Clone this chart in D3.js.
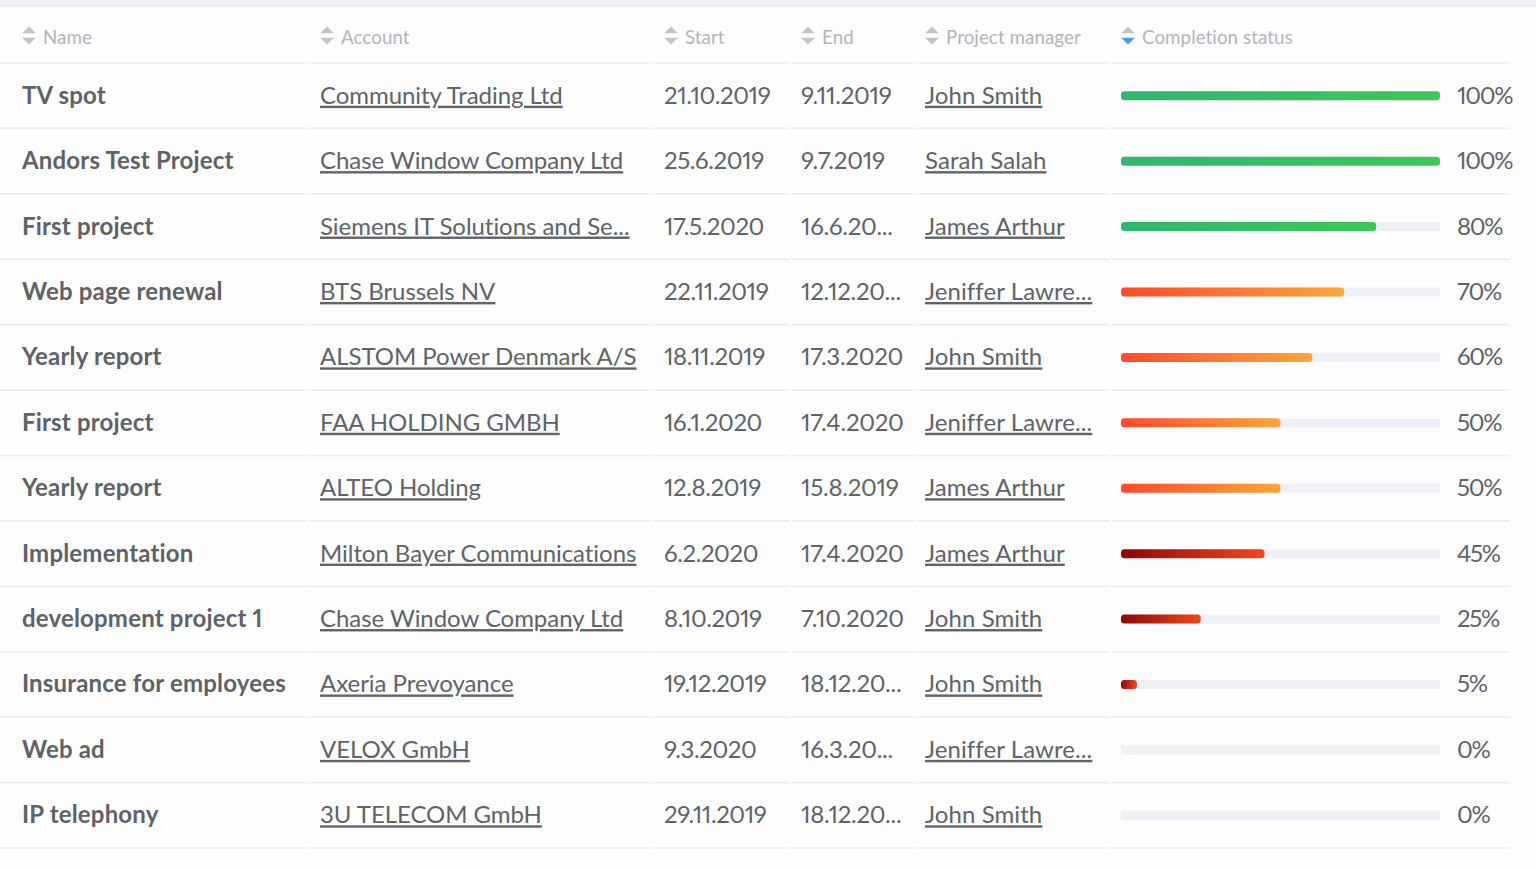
<!DOCTYPE html>
<html>
<head>
<meta charset="utf-8">
<script src="https://cdn.jsdelivr.net/npm/d3@7"></script>
<style>
  html, body { margin: 0; padding: 0; background: #fdfdfe; overflow: hidden; }
  svg { display: block; font-family: Lato, sans-serif; font-variant-numeric: proportional-nums; font-feature-settings: "pnum" 1; }
</style>
</head>
<body>
<svg width="1536" height="869"></svg>
<script>
const headers = ["Name", "Account", "Start", "End", "Project manager", "Completion status"];
const names = ["TV spot", "Andors Test Project", "First project", "Web page renewal", "Yearly report", "First project", "Yearly report", "Implementation", "development project 1", "Insurance for employees", "Web ad", "IP telephony"];
const accounts = ["Community Trading Ltd", "Chase Window Company Ltd", "Siemens IT Solutions and Se...", "BTS Brussels NV", "ALSTOM Power Denmark A/S", "FAA HOLDING GMBH", "ALTEO Holding", "Milton Bayer Communications", "Chase Window Company Ltd", "Axeria Prevoyance", "VELOX GmbH", "3U TELECOM GmbH"];
const starts = ["21.10.2019", "25.6.2019", "17.5.2020", "22.11.2019", "18.11.2019", "16.1.2020", "12.8.2019", "6.2.2020", "8.10.2019", "19.12.2019", "9.3.2020", "29.11.2019"];
const ends = ["9.11.2019", "9.7.2019", "16.6.20...", "12.12.20...", "17.3.2020", "17.4.2020", "15.8.2019", "17.4.2020", "7.10.2020", "18.12.20...", "16.3.20...", "18.12.20..."];
const managers = ["John Smith", "Sarah Salah", "James Arthur", "Jeniffer Lawre...", "John Smith", "Jeniffer Lawre...", "James Arthur", "James Arthur", "John Smith", "John Smith", "Jeniffer Lawre...", "John Smith"];
const progress = [100, 100, 80, 70, 60, 50, 50, 45, 25, 5, 0, 0];

const svg = d3.select("svg");
const colX = [22, 320, 664, 801, 925, 1121];
const colEdges = [[0, 308], [310, 652], [654, 790], [792, 914], [916, 1110], [1112, 1510]];

const y = d3.scaleBand().domain(d3.range(names.length)).range([63, 848]);
const x = d3.scaleLinear().domain([0, 100]).range([1121, 1440]);

const gradients = [
  {id: "green", from: "#2fb671", to: "#3cc956"},
  {id: "orange", from: "#ff4a2b", to: "#ffa63a"},
  {id: "red", from: "#8a0808", to: "#f2471f"}
];
const defs = svg.append("defs");
gradients.forEach(g => {
  const lg = defs.append("linearGradient").attr("id", g.id);
  lg.append("stop").attr("offset", "0%").attr("stop-color", g.from);
  lg.append("stop").attr("offset", "100%").attr("stop-color", g.to);
});
const gradientFor = v => v >= 80 ? "green" : v >= 50 ? "orange" : "red";

// top band
svg.append("rect").attr("width", 1536).attr("height", 7).attr("fill", "#eef0f5");

// separators
const lineYs = [63].concat(names.map((d, i) => y(i) + y.bandwidth()));
lineYs.forEach(ly => {
  svg.append("g").selectAll("line").data(colEdges).join("line")
      .attr("x1", d => d[0]).attr("x2", d => d[1])
      .attr("y1", ly).attr("y2", ly)
      .attr("stroke", "#e8ecee").attr("stroke-width", 1.6);
});

// header
const arrow = d3.symbol().type(d3.symbolTriangle).size(42);
const head = svg.append("g").selectAll("g").data(headers).join("g")
    .attr("transform", (d, i) => `translate(${colX[i]},0)`);
head.append("path").attr("d", arrow)
    .attr("transform", "translate(7,31) scale(1.4,0.8)").attr("fill", "#c3c5c9");
head.append("path").attr("d", arrow)
    .attr("transform", "translate(7,40) scale(1.4,-0.8)")
    .attr("fill", (d, i) => i === 5 ? "#4a9bff" : "#c3c5c9");
head.append("text").text(d => d)
    .attr("x", 21).attr("y", 43.5)
    .attr("font-size", 18.8).attr("letter-spacing", 0.05).attr("fill", "#b2b5ba");

// rows
const rowData = names.map((name, i) => ({name, pct: progress[i]}));
const row = svg.append("g").selectAll("g").data(rowData).join("g")
    .attr("transform", (d, i) => `translate(0,${y(i) + y.bandwidth() / 2})`);

const cell = (values, col, opts = {}) => row.append("text")
    .text((d, i) => values[i])
    .attr("x", colX[col]).attr("y", 8)
    .attr("font-size", 24)
    .attr("font-weight", opts.bold ? 700 : 400)
    .attr("letter-spacing", opts.spacing || 0)
    .attr("text-decoration", opts.link ? "underline" : null)
    .attr("fill", opts.bold ? "#5f6266" : "#606367");

cell(names, 0, {bold: true, spacing: 0.18});
cell(accounts, 1, {link: true, spacing: -0.05});
cell(starts, 2, {spacing: -0.4});
cell(ends, 3, {spacing: -0.25});
cell(managers, 4, {link: true, spacing: 0.08});

// completion bars
row.append("rect")
    .attr("x", x(0)).attr("y", -4.5)
    .attr("width", x(100) - x(0)).attr("height", 9)
    .attr("fill", "#eff1f6");
row.filter(d => d.pct > 0).append("rect")
    .attr("x", x(0)).attr("y", -4.5)
    .attr("width", d => x(d.pct) - x(0))
    .attr("height", 9).attr("rx", 3.5)
    .attr("fill", d => `url(#${gradientFor(d.pct)})`);
row.append("text")
    .text(d => d.pct + "%")
    .attr("x", 1457).attr("y", 8)
    .attr("font-size", 24).attr("letter-spacing", -1.3).attr("fill", "#606367");
</script>
</body>
</html>
